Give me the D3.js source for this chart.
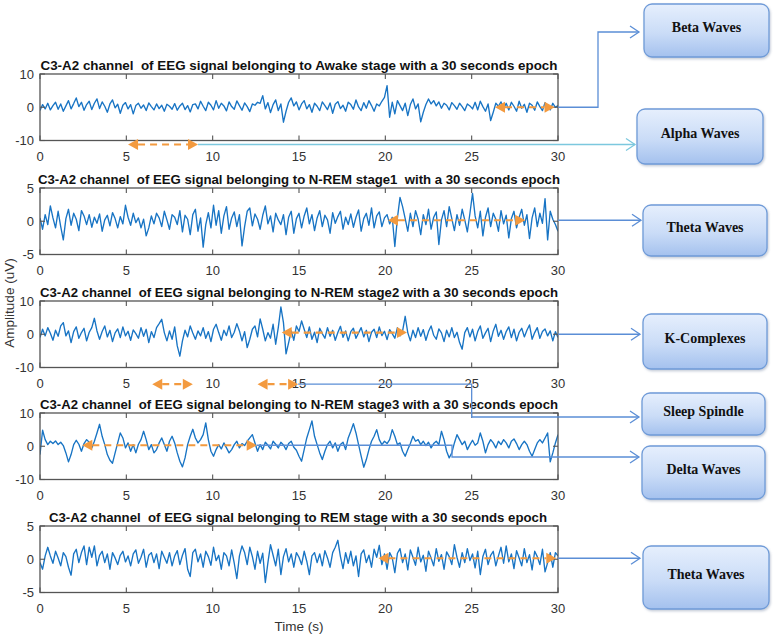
<!DOCTYPE html>
<html>
<head>
<meta charset="utf-8">
<script src="https://d3js.org/d3.v7.min.js"></script>
<style>
  body { margin: 0; background: #fff; }
  svg { display: block; font-family: "Liberation Sans", Arial, sans-serif; }
  svg text { white-space: pre; }
</style>
</head>
<body>
<script>
// panel titles and amplitude limits
const titles = [
  "C3-A2 channel  of EEG signal belonging to Awake stage with a 30 seconds epoch",
  "C3-A2 channel  of EEG signal belonging to N-REM stage1  with a 30 seconds epoch",
  "C3-A2 channel  of EEG signal belonging to N-REM stage2 with a 30 seconds epoch",
  "C3-A2 channel  of EEG signal belonging to N-REM stage3 with a 30 seconds epoch",
  "C3-A2 channel  of EEG signal belonging to REM stage with a 30 seconds epoch"
];
const yLimits = [10, 5, 10, 10, 5];
const xTicks = [0, 5, 10, 15, 20, 25, 30];

// amplitude samples (uV), evenly spaced over the 30 s epoch
const awake = [
  -1, 0.8, -0.5, 1.2, -0.8, 0.5, 1.5, -0.6, 1.0, -1.2, 0.4, 2.0, -0.5, 1.1, 2.8, 0.2, 1.5, -0.9, 0.8, 1.8,
  -0.7, 1.2, 2.5, -0.4, 1.6, 0.3, -1.5, 1.0, 2.2, -0.2, 0.9, -1.8, 0.6, 1.4, -0.5, 0.8, -2.0, 0.5, 1.2, -0.3,
  0.7, -1.0, 1.3, 0.2, -0.8, 1.0, -0.4, 0.6, -1.2, 0.9, 0.3, -0.6, 1.1, -0.9, 0.4, 1.2, -0.7, 0.5, -1.4, 0.8,
  1.0, -0.5, 1.8, 0.3, -1.0, 1.5, 0.6, -0.8, 2.0, -0.3, 1.2, 0.4, -1.1, 1.6, 0.2, -0.6, 1.9, 0.5, -0.9, 1.3,
  0.2, -1.3, 1.0, 0.6, 1.5, 1.2, 3.5, -0.5, 1.4, -1.6, 0.8, 2.2, -1.0, 1.0, -4.5, -1.2, 1.5, 2.8, 0.4, 1.6,
  -0.8, 1.0, 2.0, -0.5, 0.8, -1.5, 1.2, 0.3, -1.0, 1.6, 0.5, -0.7, 1.3, -1.8, 0.9, 1.7, -0.4, 0.6, -1.2, 1.5,
  0.8, -0.6, 2.2, 0.1, -1.0, 1.4, -0.3, 2.0, 0.5, -1.2, 1.0, 0.4, 1.8, 3.0, 6.5, -3.0, 1.5, -2.0, 2.0, 0.5,
  -1.0, 1.2, -2.5, 0.8, 2.5, -0.5, 1.0, -4.4, -1.5, 0.8, 2.5, 1.0, 2.0, 0.4, 1.6, -0.3, 1.2, 0.6, -0.8, 1.4,
  0.5, -0.6, 1.2, 0.2, -1.0, 1.0, 0.4, -0.5, 1.5, -0.8, 1.8, 0.2, -1.2, 1.0, -4.0, -1.5, 1.2, 0.3, 1.6, -0.4,
  1.2, -0.8, 1.5, 0.3, -1.2, 1.8, -0.3, 0.9, -1.5, 1.2, 0.6, -0.9, 1.6, 0.2, -1.0, 1.4, 0.5, -0.8, 1.2, 0.0, 0.5
];
const nrem1 = [
  0.5, -1.2, 1.0, -0.5, 2.3, 0.5, -1.0, 1.5, -0.8, -2.8, 0.4, 1.8, -0.6, 1.2, 0.3, -1.4, 1.6, 0.8, -0.5, 1.0,
  -0.9, 0.6, -0.3, 1.1, -1.5, 0.2, 0.9, -0.7, 1.3, 0.4, -1.0, 0.7, -0.4, 2.4, 0.6, -0.6, 1.2, -0.2, 0.5, -1.0,
  0.3, -2.2, -1.0, 0.8, -0.4, 1.2, 0.5, -0.8, 1.5, 0.2, -1.2, 1.0, 0.6, -0.5, 1.6, -1.6, 0.9, 0.3, -2.0, 1.0,
  1.8, -1.5, 0.5, -3.9, -0.5, 1.3, -1.0, 2.4, -0.6, 1.6, -1.8, 0.8, 2.2, -1.2, 0.5, 1.4, -0.8, 1.0, -3.7, -0.8,
  1.5, 2.0, -0.7, 1.1, 0.3, -1.2, 0.9, 2.3, -0.4, 0.8, -1.6, 1.2, 0.2, -0.5, 1.0, -2.0, 0.6, 1.5, -1.8, 0.4,
  1.2, -1.0, 0.8, 2.0, -0.4, 1.0, -1.4, 0.5, 1.6, -0.8, 0.9, 0.2, -1.8, 1.3, -0.3, 0.7, 1.5, -1.2, 0.6, -0.5,
  1.1, -0.9, 0.6, 1.7, -1.5, 0.4, 1.2, -0.6, 2.0, -1.0, 0.8, 1.4, -0.8, 0.5, 1.0, -0.4, 0.6, -3.8, 0.5, 3.6,
  2.2, 0.4, -1.5, 1.2, -0.8, 1.6, 0.3, -2.0, 1.0, -0.5, 1.8, -1.2, 0.6, 1.4, -3.5, 0.2, 1.6, -0.8, 2.2, 0.4,
  -1.4, 1.0, -0.6, 1.8, 0.2, -1.6, 1.2, 4.2, 0.8, -1.0, 1.5, -2.2, 0.6, 2.0, -0.8, 1.2, 0.3, -1.5, 1.6, -0.4,
  0.9, -2.5, 0.4, 1.5, -1.0, 0.6, 1.8, -0.6, 1.0, -2.6, 0.5, 2.0, -0.8, 1.2, -0.3, 3.4, -2.8, 1.5, 0.3, -0.5, -1.5
];
const nrem2 = [
  -1.0, 1.5, -0.5, 2.0, 0.3, -1.8, 1.2, -0.6, 2.5, 3.5, -0.5, 1.0, -2.5, 0.8, 2.2, -1.2, 0.5, 1.8, -2.0, 0.6,
  2.0, 4.8, 1.0, -1.5, 0.8, 2.5, -0.8, 1.2, -2.2, 0.4, 1.6, -1.0, 2.2, -0.5, 0.9, -1.8, 1.3, 0.2, -1.2, 2.0,
  -0.6, 1.5, -2.5, 0.8, -1.0, 2.0, 3.2, 4.5, 0.5, -2.0, 1.0, -1.5, 2.2, -3.5, -6.6, -2.0, 1.2, -0.8, 2.5, 0.4,
  -1.5, 1.0, -0.5, 2.0, -1.2, 0.8, -2.2, 1.5, 3.0, 0.5, -1.8, 1.2, -0.4, 2.5, -1.0, 0.6, 3.2, 1.0, -2.0, 0.8,
  -4.0, -1.5, 1.5, 2.5, -0.8, 4.6, 1.5, -2.0, 0.5, -1.2, 3.0, -3.0, 2.0, 8.2, 3.5, -5.9, -2.5, 1.0, -1.8, 2.5,
  0.8, 4.0, 1.5, -1.0, 2.2, -1.5, 0.6, -2.5, 1.8, 0.2, -1.2, 2.0, -0.6, 1.2, -1.8, 0.5, 2.4, -0.9, 1.0, -2.0,
  0.8, 1.8, -1.2, 0.4, 2.0, -0.8, 1.2, -2.2, 0.6, 1.5, -1.0, 2.2, -0.4, 0.9, -1.6, 1.4, 0.2, -1.2, 2.0, -0.5,
  1.0, 5.4, 0.5, -2.0, 1.2, -1.0, 2.0, -0.6, 1.4, -1.8, 0.8, 2.5, -0.3, -1.5, 1.6, 0.4, -2.2, 1.2, -0.8, 2.0,
  -1.0, 0.6, -2.5, -4.5, 0.5, 2.0, -0.8, 1.5, -2.0, 0.8, 2.5, -1.2, 0.4, 1.8, -2.2, 1.0, 3.0, -0.6, 1.2, -1.5,
  0.8, 2.2, -1.0, 1.5, -2.0, 0.6, 1.8, -0.8, 1.2, 2.8, -1.5, 0.5, 2.0, -1.2, 0.8, 1.6, -0.5, 1.0, -2.0, 0.8, -1.0
];
const nrem3 = [
  -2.5, 4.8, 2.0, 0.5, 1.5, 0.8, 1.6, 0.5, 1.2, 0.2, -2.0, -4.7, -2.5, 0.5, 1.8, 0.6, -1.5, 0.8, 2.0, 1.2,
  -0.5, 1.5, 4.0, 6.6, 3.0, 0.5, -2.5, -4.2, -5.1, -2.0, 1.0, 4.0, 2.5, -0.5, 1.0, -1.5, 0.5, -2.0, 0.6, 2.0,
  4.5, 2.0, -1.0, 0.5, -2.0, -1.0, 1.0, 2.5, 0.5, -1.5, 1.5, 3.0, 1.0, -2.0, -4.5, -6.2, -3.5, 0.5, 3.0, 5.1,
  2.5, 1.0, 2.0, 3.5, 7.0, 2.0, -1.5, -3.0, -1.0, 0.5, -0.8, 1.0, -0.5, -2.0, -1.0, 0.5, 1.5, -0.5, 0.8, 0.2,
  1.5, 2.5, 3.5, 1.0, -1.5, 0.5, -1.0, 1.2, 0.3, -0.8, 1.5, 0.6, -0.5, 1.2, 0.4, -1.0, 0.8, 1.5, -0.3, -1.2,
  -3.0, -4.5, -1.0, 2.5, 5.0, 7.6, 3.0, 0.5, -2.0, -4.0, -1.5, 0.5, 1.5, -0.5, 1.0, -1.5, 0.5, 1.2, -1.0, 2.5,
  4.5, 6.8, 4.0, 0.5, -3.0, -6.3, -4.0, -1.0, 1.5, 3.0, 5.0, 2.0, 0.5, 1.5, 0.8, 2.0, 5.0, 3.0, 0.5, 1.0,
  -1.5, -3.0, -1.0, 0.8, 3.0, 1.5, 2.0, 0.5, 1.5, 0.2, 1.2, -0.5, 0.8, 1.5, 0.5, 4.5, 2.0, -1.5, -3.5, -2.0,
  1.0, 3.5, 2.0, 0.5, 1.5, -1.0, 0.5, 1.8, 0.3, 1.0, 4.0, 1.5, -2.0, 0.5, 2.0, 1.0, -0.5, 1.5, 0.5, 2.0,
  1.0, -0.5, 1.5, 2.2, 0.8, -1.0, 0.5, 1.5, 0.5, -1.5, -3.0, -1.0, 1.0, 2.0, 1.0, 2.5, 4.0, -4.7, -2.0, 1.0, 3.5
];
const rem = [
  -0.5, -1.5, 0.5, 1.8, 0.5, -0.6, 1.2, 0.2, -1.0, 1.0, 0.4, -1.2, -2.4, 0.8, 1.5, -0.5, 1.0, 2.0, -0.8, 1.8,
  0.3, 2.0, -1.0, 0.6, 1.2, -0.5, 0.8, -1.5, 1.0, 0.2, -0.8, 0.6, 1.2, -0.4, 0.5, -1.0, 0.8, 1.4, -0.6, 0.3,
  1.5, -1.2, 0.6, 1.0, -0.5, 0.8, -1.4, 1.2, 0.3, -0.6, 1.0, -1.0, 0.5, 1.3, -0.8, 0.6, 1.6, -1.5, -2.6, 1.0,
  1.5, -0.4, 0.8, -1.2, 1.2, 0.4, -0.9, 1.8, -0.2, 0.6, -1.5, 1.0, 0.5, -1.0, 1.4, -0.6, -2.9, 0.5, 2.0, 1.0,
  -0.8, 1.8, 0.4, -1.5, 1.2, -0.6, 0.9, -3.5, -0.5, 2.2, 0.6, -1.0, 1.5, -2.3, 0.4, 1.6, -0.4, 0.8, -1.2, 1.0,
  0.3, -0.8, 1.2, -0.3, -2.3, 0.5, 1.0, -0.5, 0.8, -1.0, 1.3, 0.2, -1.2, 1.0, 1.8, 2.85, 0.4, -1.4, 1.0, -0.6,
  1.2, -1.0, 0.5, -2.6, 0.8, 1.4, -0.5, 0.6, -1.2, 1.5, 0.3, 2.1, -0.8, 0.8, -1.5, 1.0, 0.2, -2.0, 0.9, 1.6,
  -0.5, 0.8, -1.6, 1.4, 0.3, -0.9, 1.8, -0.4, 0.6, -1.8, 1.2, 0.2, -1.0, 1.6, -0.3, 0.7, -1.5, 1.1, 0.4, -0.8,
  2.2, 0.3, -1.2, 1.0, -0.5, 1.6, -0.2, 0.8, -1.3, 1.2, -2.3, 0.4, 1.5, -0.8, 0.6, 1.2, -1.0, 0.5, 1.8, -0.6,
  2.0, -0.4, 0.8, -1.4, 1.3, 0.2, -1.0, 1.6, -0.5, 0.7, -1.6, 1.2, 0.4, -0.8, 1.5, -1.9, -0.5, 1.0, -1.2, 1.0, 0.5
];
const signals = [awake, nrem1, nrem2, nrem3, rem];

// orange double arrows: [panel, start time, end time, amplitude]
const waveMarks = [
  [0, 5.1, 9.15, -11.2],
  [0, 26.35, 29.8, 0],
  [1, 20.15, 28.1, 0.15],
  [2, 14.0, 21.25, 0.5],
  [2, 6.5, 8.85, -15],
  [2, 12.6, 14.95, -15],
  [3, 2.45, 12.55, 0.3],
  [4, 19.6, 29.9, 0.15]
];

// callout labels
const waveNames = ["Beta Waves", "Alpha Waves", "Theta Waves", "K-Complexes", "Sleep Spindle", "Delta Waves", "Theta Waves"];

// ---- layout
const width = 777, height = 636;
const left = 40, right = 558;
const panelTop = [74, 188, 301, 413, 526];
const panelH = 66.5;
const titleLen = [517, 522, 518, 518, 498];
const blue = "#1874C4", orange = "#F39A3F", link = "#5B8ED6";

const svg = d3.select("body").append("svg")
  .attr("width", width).attr("height", height);

const defs = svg.append("defs");
const grad = defs.append("linearGradient").attr("id", "boxfill")
  .attr("x1", 0).attr("y1", 0).attr("x2", 0).attr("y2", 1);
grad.append("stop").attr("offset", "0%").attr("stop-color", "#e6effd");
grad.append("stop").attr("offset", "55%").attr("stop-color", "#cadcf7");
grad.append("stop").attr("offset", "100%").attr("stop-color", "#a4c1ee");
const shadow = defs.append("filter").attr("id", "shadow")
  .attr("x", "-10%").attr("y", "-10%").attr("width", "125%").attr("height", "130%");
shadow.append("feDropShadow").attr("dx", 1).attr("dy", 1.5).attr("stdDeviation", 1.2)
  .attr("flood-color", "#7a8ca8").attr("flood-opacity", 0.45);

const x = d3.scaleLinear().domain([0, 30]).range([left, right]);
const ys = panelTop.map((top, i) =>
  d3.scaleLinear().domain([-yLimits[i], yLimits[i]]).range([top + panelH, top]));

signals.forEach((vals, i) => {
  const y = ys[i];
  const top = panelTop[i], bot = top + panelH;
  const g = svg.append("g");

  defs.append("clipPath").attr("id", "clip" + i)
    .append("rect").attr("x", left).attr("y", top).attr("width", right - left).attr("height", panelH);

  const n = vals.length;
  const line = d3.line()
    .x((d, k) => x(k * 30 / (n - 1)))
    .y(d => y(d));
  g.append("path")
    .datum(vals)
    .attr("d", line)
    .attr("clip-path", `url(#clip${i})`)
    .attr("fill", "none")
    .attr("stroke", blue)
    .attr("stroke-width", 1.35)
    .attr("stroke-linejoin", "round");

  // box
  g.append("rect")
    .attr("x", left).attr("y", top).attr("width", right - left).attr("height", panelH)
    .attr("fill", "none").attr("stroke", "#555").attr("stroke-width", 1.3);

  // x ticks (inward, top and bottom)
  xTicks.forEach(t => {
    g.append("line").attr("x1", x(t)).attr("x2", x(t)).attr("y1", bot).attr("y2", bot - 5)
      .attr("stroke", "#555").attr("stroke-width", 1.1);
    g.append("line").attr("x1", x(t)).attr("x2", x(t)).attr("y1", top).attr("y2", top + 5)
      .attr("stroke", "#555").attr("stroke-width", 1.1);
    g.append("text").attr("x", x(t)).attr("y", bot + 20)
      .attr("text-anchor", "middle").attr("font-size", 13).attr("fill", "#333").text(t);
  });

  // y ticks
  [-yLimits[i], 0, yLimits[i]].forEach(v => {
    g.append("line").attr("x1", left).attr("x2", left + 5).attr("y1", y(v)).attr("y2", y(v))
      .attr("stroke", "#555").attr("stroke-width", 1.1);
    g.append("line").attr("x1", right).attr("x2", right - 5).attr("y1", y(v)).attr("y2", y(v))
      .attr("stroke", "#555").attr("stroke-width", 1.1);
    g.append("text").attr("x", 34).attr("y", y(v) + 4.5)
      .attr("text-anchor", "end").attr("font-size", 13).attr("fill", "#333").text(v);
  });

  // title
  g.append("text")
    .attr("x", (left + right) / 2 + (i === 4 ? -1 : 0)).attr("y", top - 4.5)
    .attr("text-anchor", "middle").attr("font-size", 13).attr("font-weight", "bold")
    .attr("fill", "#111")
    .attr("textLength", titleLen[i]).attr("lengthAdjust", "spacingAndGlyphs")
    .text(titles[i]);
});

// axis labels
svg.append("text")
  .attr("transform", "translate(14,303) rotate(-90)")
  .attr("text-anchor", "middle").attr("font-size", 13.5).attr("fill", "#333")
  .text("Amplitude (uV)");
svg.append("text")
  .attr("x", 299).attr("y", 631)
  .attr("text-anchor", "middle").attr("font-size", 13.5).attr("fill", "#333")
  .text("Time (s)");

// callout boxes
const boxes = [
  { x0: 644, x1: 769, y0: 4, y1: 57 },
  { x0: 637, x1: 763, y0: 109, y1: 164 },
  { x0: 643, x1: 767, y0: 205, y1: 256 },
  { x0: 643, x1: 767, y0: 314, y1: 369 },
  { x0: 642, x1: 765, y0: 393, y1: 435 },
  { x0: 642, x1: 765, y0: 446, y1: 499 },
  { x0: 643, x1: 769, y0: 546, y1: 609 }
];
const boxG = svg.append("g");
boxes.forEach((b, i) => {
  boxG.append("rect")
    .attr("x", b.x0).attr("y", b.y0).attr("width", b.x1 - b.x0).attr("height", b.y1 - b.y0)
    .attr("rx", 8).attr("fill", "url(#boxfill)")
    .attr("stroke", "#6f9bd8").attr("stroke-width", 1.3)
    .attr("filter", "url(#shadow)");
  boxG.append("text")
    .attr("x", (b.x0 + b.x1) / 2).attr("y", (b.y0 + b.y1) / 2 + 1.5)
    .attr("text-anchor", "middle")
    .attr("font-family", "'Liberation Serif', 'Times New Roman', serif")
    .attr("font-weight", "bold").attr("font-size", 14).attr("fill", "#111")
    .text(waveNames[i]);
});

// connectors
const mk = (i, t, v) => [x(t), ys[i](v)];
const conn = [
  { pts: [mk(0, 30, 0), [598, ys[0](0)], [598, 32], [639, 32]], c: link },
  { pts: [mk(0, 9.15, -11.2), [635, ys[0](-11.2)]], c: "#7cc8de" },
  { pts: [mk(1, 30, 0.15), [641, ys[1](0.15)]], c: link },
  { pts: [mk(2, 30, 0), [640, ys[2](0)]], c: link },
  { pts: [mk(2, 14.95, -15), [x(25), ys[2](-15)], [x(25), 417], [639, 417]], c: link },
  { pts: [mk(3, 12.55, 0.3), [452, ys[3](0.3)], [452, 457], [639, 457]], c: link },
  { pts: [mk(4, 30, 0.15), [640, ys[4](0.15)]], c: link }
];
const connG = svg.append("g");
conn.forEach(cn => {
  connG.append("path").attr("d", d3.line()(cn.pts))
    .attr("fill", "none").attr("stroke", cn.c).attr("stroke-width", 1.3);
  const [tx, ty] = cn.pts[cn.pts.length - 1];
  connG.append("path").attr("d", `M${tx - 9},${ty - 6}L${tx},${ty}L${tx - 9},${ty + 6}`)
    .attr("fill", "none").attr("stroke", cn.c).attr("stroke-width", 1.3);
});

// orange dashed double arrows
const markG = svg.append("g");
waveMarks.forEach(([p, t0, t1, v]) => {
  const xa = x(t0), xb = x(t1), yy = ys[p](v);
  const head = 10, hw = 5.5;
  markG.append("line")
    .attr("x1", xa + head).attr("x2", xb - head).attr("y1", yy).attr("y2", yy)
    .attr("stroke", orange).attr("stroke-width", 2.2).attr("stroke-dasharray", "7,5");
  markG.append("path").attr("d", `M${xa},${yy}L${xa + head},${yy - hw}L${xa + head},${yy + hw}Z`)
    .attr("fill", orange);
  markG.append("path").attr("d", `M${xb},${yy}L${xb - head},${yy - hw}L${xb - head},${yy + hw}Z`)
    .attr("fill", orange);
});
</script>
</body>
</html>
